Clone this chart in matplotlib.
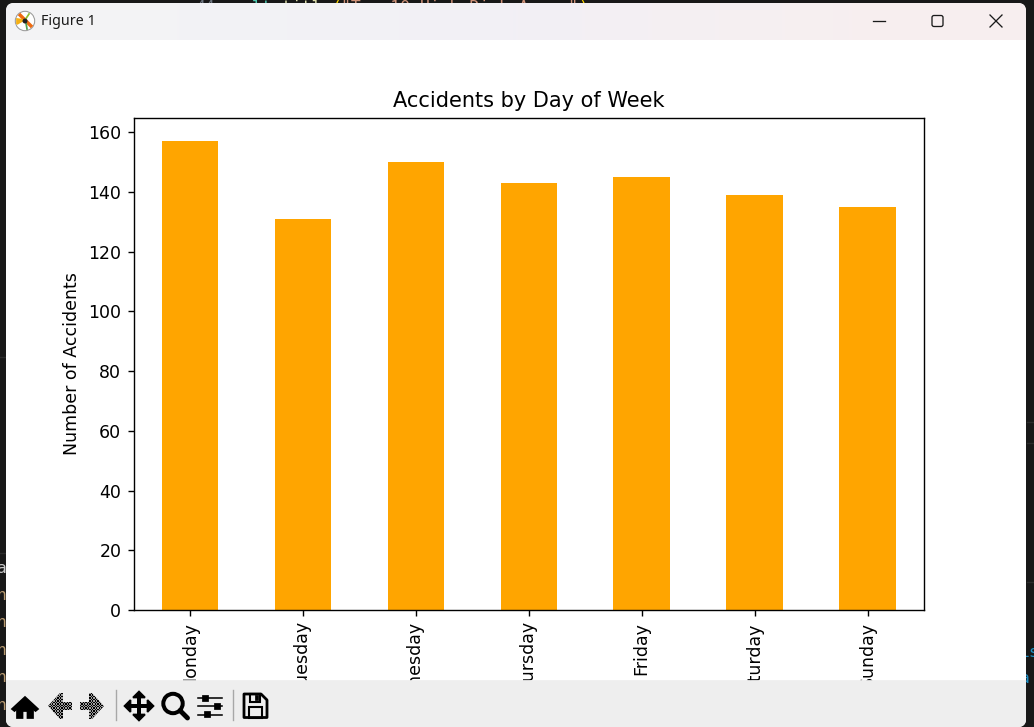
#!/usr/bin/env python
"""
    Bar chart of accidents per weekday, shown inside a desktop plot window
"""
import numpy as np
import matplotlib
matplotlib.use('Agg')
import matplotlib.pyplot as plt
from matplotlib.patches import Circle, FancyBboxPatch, Polygon, Rectangle

days = ['Monday', 'Tuesday', 'Wednesday', 'Thursday', 'Friday', 'Saturday', 'Sunday']
accidents = [157, 131, 150, 143, 145, 139, 135]

# size of the window in pixels
W, H = 1034, 727
DPI = 125


def px_axes(fig, zorder):
    # overlay axes where one data unit is one pixel, origin top left
    ax = fig.add_axes([0, 0, 1, 1], zorder=zorder)
    ax.set_xlim(0, W)
    ax.set_ylim(H, 0)
    ax.axis('off')
    ax.patch.set_alpha(0)
    return ax


def draw_desktop(ax):
    # editor behind the window, only its edges stay visible
    ax.add_patch(Rectangle((0, 0), W, H, color='#181818', zorder=0))
    for x0, x1, y in [(0, 6, 357), (0, 6, 553), (1027, W, 422), (1027, W, 443), (1027, W, 582)]:
        ax.plot([x0, x1], [y, y], color='#2c2c2c', lw=0.8, zorder=1)
    mono = dict(family='DejaVu Sans Mono', fontsize=9.45, va='baseline', zorder=1)
    ax.text(195, 12, '44', color='#6e7681', **mono)
    ax.text(243, 12, 'plt', color='#4ec9b0', **mono)
    ax.text(272.5, 12, '.title', color='#dcdcaa', **mono)
    ax.text(331.5, 12, '(', color='#ffd700', **mono)
    ax.text(341, 12, '"Top 10 High Risk Areas"', color='#ce9178', **mono)
    ax.text(578, 12, ')', color='#ffd700', **mono)
    ax.text(-3, 573, 'ac', color='#c9c9c9', **mono)
    for y in [600, 627, 655, 682, 710]:
        ax.text(-3, y, 'h', color='#b89a70', **mono)
    ax.text(1020, 657, 'is', color='#1f8fc4', **mono)
    ax.text(1020, 683, 'a', color='#1f8fc4', **mono)


def draw_window(ax):
    win = FancyBboxPatch((6, 3), 1020, 724, boxstyle='round,pad=0,rounding_size=8',
                         fc='white', ec='none', zorder=2)
    ax.add_patch(win)
    # title bar fades slightly towards pink on the right
    grad = np.array([[[0.953, 0.953, 0.961], [0.949, 0.941, 0.961], [0.969, 0.937, 0.941]]])
    bar = ax.imshow(grad, extent=(6, 1026, 40, 3), aspect='auto', zorder=3, interpolation='bilinear')
    bar.set_clip_path(win)
    ax.set_xlim(0, W)
    ax.set_ylim(H, 0)
    ax.text(41, 21.5, 'Figure 1', family='Noto Sans', fontsize=8.2, color='#1a1a1a',
            va='center', zorder=4)

    # window buttons
    ax.plot([873, 885], [20.5, 20.5], color='#1a1a1a', lw=0.75, zorder=4)
    ax.add_patch(FancyBboxPatch((932, 15.5), 11, 11, boxstyle='round,pad=0,rounding_size=2',
                                fc='none', ec='#1a1a1a', lw=0.75, zorder=4))
    ax.plot([990, 1002], [15, 27], color='#1a1a1a', lw=0.75, zorder=4)
    ax.plot([990, 1002], [27, 15], color='#1a1a1a', lw=0.75, zorder=4)

    # application icon
    ax.add_patch(Circle((25, 21), 9.7, fc='white', ec='#9a9a9a', lw=0.6, zorder=4))
    ax.plot([19, 32], [14, 27], color='#ee6a10', lw=2.0, zorder=5, solid_capstyle='butt')
    ax.add_patch(Polygon([[24, 20], [17, 19], [17, 24]], color='#f5b014', zorder=5))
    ax.plot([25, 29], [20, 14], color='#8fbf30', lw=1.0, zorder=5)
    ax.plot([26, 27], [23, 29], color='#50a050', lw=1.0, zorder=5)
    ax.add_patch(Circle((25, 21), 1.6, color='#222222', zorder=6))
    return win


def draw_toolbar(ax, win):
    strip = Rectangle((6, 681), 1020, 46, color='#eeeeee', zorder=1)
    ax.add_patch(strip)
    strip.set_clip_path(win)
    black = '#000000'

    # home
    ax.add_patch(Polygon([[25, 697], [38, 709], [35.5, 711], [25, 701.5], [14.5, 711], [12, 709]],
                         color=black, zorder=2))
    ax.add_patch(Polygon([[17, 709], [25, 702.5], [33, 709], [33, 718], [27.5, 718], [27.5, 711],
                          [22.5, 711], [22.5, 718], [17, 718]], color=black, zorder=2))

    # back and forward are dithered since there is no history yet
    checker = np.indices((18, 18)).sum(axis=0) % 2
    arrow = np.array([[0, 13], [12, 0], [15, 0], [15, 9], [24, 9], [24, 17], [15, 17],
                      [15, 26], [12, 26]])
    for left, shape in [(48, arrow), (104, arrow * [-1, 1])]:
        poly = Polygon(shape + [left, 693], fc='none', ec='none', zorder=2)
        ax.add_patch(poly)
        x0, x1 = (left, left + 24) if shape[:, 0].max() > 0 else (left - 24, left)
        im = ax.imshow(checker, extent=(x0, x1, 719, 693), cmap='gray', aspect='auto',
                       vmin=0, vmax=1.6, zorder=2, interpolation='nearest')
        im.set_clip_path(poly)

    for x in [115.5, 232.5]:
        ax.plot([x, x], [690, 720], color='#a8a8a8', lw=0.8, zorder=2)

    # pan
    cx, cy = 139, 706
    ax.plot([cx - 11, cx + 11], [cy, cy], color=black, lw=2.3, zorder=2, solid_capstyle='butt')
    ax.plot([cx, cx], [cy - 11, cy + 11], color=black, lw=2.3, zorder=2, solid_capstyle='butt')
    for ux, uy in [(1, 0), (-1, 0), (0, 1), (0, -1)]:
        tip = [cx + 14.5 * ux, cy + 14.5 * uy]
        a = [cx + 8.5 * ux + 6 * uy, cy + 8.5 * uy + 6 * ux]
        b = [cx + 8.5 * ux - 6 * uy, cy + 8.5 * uy - 6 * ux]
        ax.add_patch(Polygon([tip, a, b], color=black, zorder=2))

    # zoom
    ax.add_patch(Circle((173, 703.5), 9.7, fc='none', ec=black, lw=2.3, zorder=2))
    ax.plot([180, 187.5], [710.5, 718], color=black, lw=2.8, zorder=2, solid_capstyle='round')

    # subplots
    for y, kx in [(698, 205), (706, 217), (714.5, 207)]:
        ax.plot([198, 222], [y, y], color=black, lw=0.9, zorder=2)
        ax.add_patch(Rectangle((kx - 2.5, y - 2.5), 5, 5, color=black, zorder=2))

    # save
    ax.add_patch(Polygon([[244, 694], [261, 694], [267, 700], [267, 717.5], [244, 717.5]], closed=True,
                         fc='none', ec=black, lw=1.6, joinstyle='round', zorder=2))
    ax.add_patch(Rectangle((250, 694), 10, 7.5, fc='none', ec=black, lw=1.2, zorder=2))
    ax.add_patch(Rectangle((255.5, 695.5), 2.5, 4.5, color=black, zorder=2))
    ax.add_patch(Rectangle((249, 707), 13, 10.5, fc='none', ec=black, lw=1.2, zorder=2))


def plot_accidents(fig):
    ax = fig.add_axes([133.5 / W, 1 - 610.2 / H, 790.5 / W, 492.7 / H], zorder=1)
    ax.bar(range(len(days)), accidents, width=0.5, color='orange')
    ax.set_xlim(-0.5, len(days) - 0.5)
    ax.set_xticks(range(len(days)))
    ax.set_xticklabels(days, rotation=90)
    ax.set_ylim(0, max(accidents) * 1.05)
    ax.set_title('Accidents by Day of Week')
    ax.set_ylabel('Number of Accidents')
    return ax


if __name__ == "__main__":
    fig = plt.figure(figsize=(W / DPI, H / DPI), dpi=DPI)
    fig.patch.set_alpha(0)

    back = px_axes(fig, zorder=0)
    draw_desktop(back)
    win = draw_window(back)

    plot_accidents(fig)

    top = px_axes(fig, zorder=2)
    draw_toolbar(top, win)
    top.set_xlim(0, W)
    top.set_ylim(H, 0)

    fig.savefig('out.png', dpi=DPI)
